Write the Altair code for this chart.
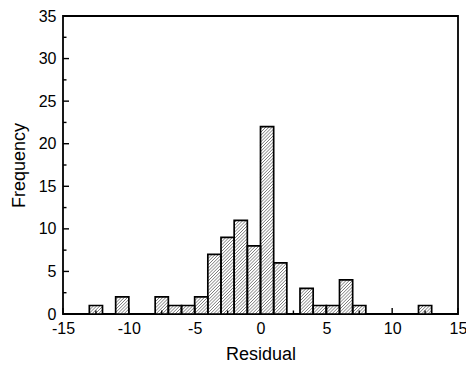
import math
import altair as alt
import pandas as pd

# ---- data ----
bin_start = [-13, -11, -8, -7, -6, -5, -4, -3, -2, -1, 0, 1, 3, 4, 5, 6, 7, 12]
counts = [1, 2, 2, 1, 1, 2, 7, 9, 11, 8, 22, 6, 3, 1, 1, 4, 1, 1]
bin_width = 1.0
x_major = [-15, -10, -5, 0, 5, 10, 15]
x_minor = [-12.5, -7.5, -2.5, 2.5, 7.5, 12.5]
y_major = [0, 5, 10, 15, 20, 25, 30, 35]
y_minor = [2.5, 7.5, 12.5, 17.5, 22.5, 27.5, 32.5]

W, H = 395, 298
X0, X1 = -15, 15
Y0, Y1 = 0, 35
sx = W / (X1 - X0)
sy = H / (Y1 - Y0)

bars = pd.DataFrame({
    "start": bin_start,
    "end": [s + bin_width for s in bin_start],
    "count": counts,
    "base": [0] * len(counts),
})

# hatch segments ("/" diagonals) derived from each bar's extent
spacing = 3.2
segs = []
for s, c in zip(bin_start, counts):
    u0 = (s - X0) * sx
    u1 = (s + bin_width - X0) * sx
    h = c * sy
    k0 = math.ceil((u0 - h) / spacing)
    k1 = math.floor(u1 / spacing)
    for k in range(k0, k1 + 1):
        cc = k * spacing
        va = max(0.0, u0 - cc)
        vb = min(h, u1 - cc)
        if vb - va > 0.4:
            segs.append({"x": (va + cc) / sx + X0, "y": va / sy,
                         "x2": (vb + cc) / sx + X0, "y2": vb / sy})
hatch = pd.DataFrame(segs)

xticks = pd.DataFrame({
    "v": x_major + x_minor,
    "y": [0.0] * (len(x_major) + len(x_minor)),
    "y2": [6 / sy] * len(x_major) + [3.5 / sy] * len(x_minor),
})
yticks = pd.DataFrame({
    "v": y_major + y_minor,
    "x": [float(X0)] * (len(y_major) + len(y_minor)),
    "x2": [X0 + 6 / sx] * len(y_major) + [X0 + 3.5 / sx] * len(y_minor),
})

xs = alt.Scale(domain=[X0, X1], nice=False, zero=False)
ys = alt.Scale(domain=[Y0, Y1], nice=False, zero=False)

xaxis = alt.Axis(values=x_major, title="Residual", labelExpr="'' + datum.value",
                 labelFlush=False, labelOverlap=False, labelPadding=6,
                 titleY=45, titleBaseline="alphabetic")
yaxis = alt.Axis(values=y_major, title="Frequency", labelExpr="'' + datum.value",
                 labelFlush=False, labelOverlap=False, labelPadding=7,
                 titleX=-39, titleY=H / 2, titleBaseline="alphabetic",
                 titleAlign="center", titleAngle=270)

fill = alt.Chart(bars).mark_rect(fill="white", stroke=None).encode(
    x=alt.X("start:Q", scale=xs, axis=xaxis),
    x2="end:Q",
    y=alt.Y("count:Q", scale=ys, axis=yaxis),
    y2="base:Q",
)

hatch_layer = alt.Chart(hatch).mark_rule(color="#333333", strokeWidth=0.65).encode(
    x=alt.X("x:Q", scale=xs, axis=xaxis),
    x2="x2:Q",
    y=alt.Y("y:Q", scale=ys, axis=yaxis),
    y2="y2:Q",
)

outline = alt.Chart(bars).mark_rect(fillOpacity=0, stroke="black", strokeWidth=1.7).encode(
    x=alt.X("start:Q", scale=xs, axis=xaxis),
    x2="end:Q",
    y=alt.Y("count:Q", scale=ys, axis=yaxis),
    y2="base:Q",
)

xtick_layer = alt.Chart(xticks).mark_rule(color="black", strokeWidth=1.4).encode(
    x=alt.X("v:Q", scale=xs, axis=xaxis),
    y=alt.Y("y:Q", scale=ys, axis=yaxis),
    y2="y2:Q",
)

ytick_layer = alt.Chart(yticks).mark_rule(color="black", strokeWidth=1.4).encode(
    y=alt.Y("v:Q", scale=ys, axis=yaxis),
    x=alt.X("x:Q", scale=xs, axis=xaxis),
    x2="x2:Q",
)

chart = alt.layer(fill, hatch_layer, outline, xtick_layer, ytick_layer).properties(
    width=W, height=H,
    padding={"left": 55, "top": 8, "right": 8, "bottom": 51},
    autosize=alt.AutoSizeParams(type="none"),
).configure_view(
    stroke="black", strokeWidth=1.8
).configure_axis(
    ticks=False, domain=False, grid=False,
    labelFont="Liberation Sans", labelFontSize=16, labelColor="black",
    titleFont="Liberation Sans", titleFontSize=18, titleFontWeight="normal",
    titleColor="black",
)

chart.save("out.html", embed_options={"renderer": "svg", "actions": False})
